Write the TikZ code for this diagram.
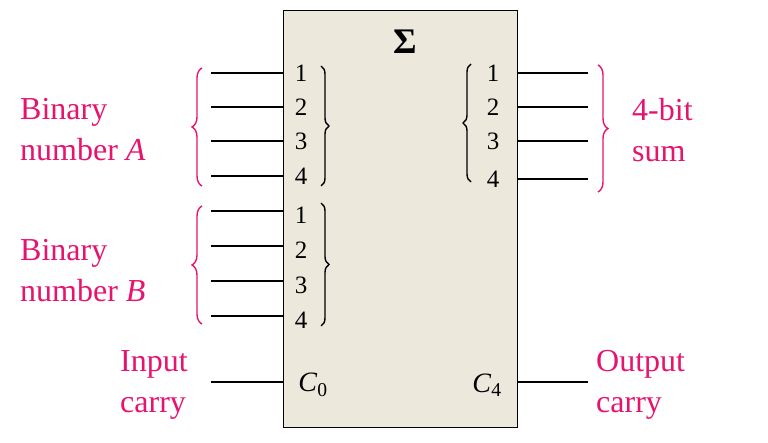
\documentclass[tikz,border=0pt]{standalone}
\usepackage{fontspec}
\setmainfont{Liberation Serif}
\usetikzlibrary{decorations.pathreplacing}
\definecolor{pk}{RGB}{230,20,110}
\definecolor{boxfill}{RGB}{236,233,220}
\tikzset{
  lead/.style={line width=2pt},
  pin/.style={font=\fontsize{25}{25}\selectfont, inner sep=0pt},
  lbl/.style={pk, font=\fontsize{32}{41}\selectfont, align=left, inner sep=0pt},
  ibrace/.style={decorate, decoration={brace, amplitude=8pt}, line width=1.4pt},
  obrace/.style={decorate, decoration={brace, amplitude=10pt}, line width=1.4pt, pk},
}
\begin{document}
\begin{tikzpicture}[x=1pt,y=-1pt]
\useasboundingbox (0,0) rectangle (768,443);
\node[draw, line width=1.4pt, fill=boxfill, minimum width=234pt, minimum height=417pt, anchor=north west, inner sep=0pt] (box) at (283,10) {};
\node[font=\fontsize{36}{36}\selectfont\bfseries] (sig) at (405,42) {Σ};
\foreach \y/\n in {73/1,107/2,141/3,176/4}{
  \coordinate (a\n) at (211,\y);
  \coordinate (ae\n) at (283,\y);
  \draw[lead] (a\n) -- (ae\n);
  \node[pin] (an\n) at (301,\y) {\n};
}
\foreach \y/\n in {211/1,246/2,281/3,316/4}{
  \coordinate (b\n) at (211,\y);
  \coordinate (be\n) at (283,\y);
  \draw[lead] (b\n) -- (be\n);
  \node[pin] (bn\n) at (301,\y+4) {\n};
}
\foreach \y/\n in {73/1,107/2,141/3,179/4}{
  \coordinate (s\n) at (517,\y);
  \coordinate (se\n) at (588,\y);
  \draw[lead] (s\n) -- (se\n);
  \node[pin] (sn\n) at (493,\y) {\n};
}
\coordinate (c0) at (211,382); \coordinate (c0e) at (283,382);
\draw[lead] (c0) -- (c0e);
\coordinate (c4) at (517,382); \coordinate (c4e) at (588,382);
\draw[lead] (c4) -- (c4e);
\node[pin, font=\fontsize{28}{28}\selectfont] (cz) at (313,385) {\textit{C}\textsubscript{0}};
\node[pin, font=\fontsize{28}{28}\selectfont] (cf) at (487,385) {\textit{C}\textsubscript{4}};
\coordinate (ia1) at (321,66); \coordinate (ia2) at (321,186);
\draw[ibrace] (ia1) -- (ia2);
\coordinate (ib1) at (321,203); \coordinate (ib2) at (321,326);
\draw[ibrace] (ib1) -- (ib2);
\coordinate (is1) at (471,182); \coordinate (is2) at (471,64);
\draw[ibrace] (is1) -- (is2);
\coordinate (oa1) at (202,186); \coordinate (oa2) at (202,68);
\draw[obrace] (oa1) -- (oa2);
\coordinate (ob1) at (202,324); \coordinate (ob2) at (202,206);
\draw[obrace] (ob1) -- (ob2);
\coordinate (os1) at (598,65); \coordinate (os2) at (598,192);
\draw[obrace] (os1) -- (os2);
\node[lbl, anchor=west] (la) at (20,130) {Binary\\number \textit{A}};
\node[lbl, anchor=west] (lb) at (20,271) {Binary\\number \textit{B}};
\node[lbl, anchor=west] (ls) at (632,130) {4-bit\\sum};
\node[lbl, anchor=west] (li) at (120,385) {Input\\carry};
\node[lbl, anchor=west] (lo) at (596,385) {Output\\carry};
\end{tikzpicture}
\end{document}
